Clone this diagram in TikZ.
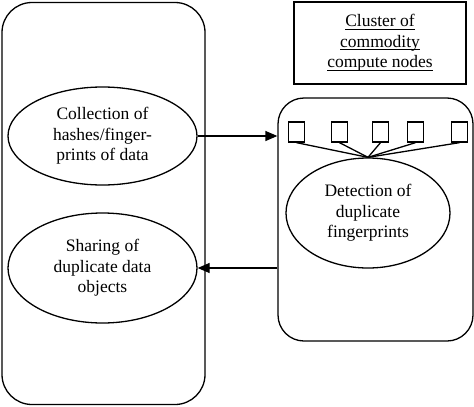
\documentclass[tikz,border=0pt]{standalone}
\usepackage{fontspec}
\setmainfont{Liberation Serif}
\usetikzlibrary{shapes.geometric,arrows.meta}
\newcommand\myul[1]{\leavevmode\setbox0\hbox{#1}\rlap{\rule[-2.8pt]{\wd0}{0.7pt}}\box0}
\begin{document}
\begin{tikzpicture}[x=1pt,y=-1pt,line width=1.3pt,
  every node/.style={font=\fontsize{17.5}{20.5}\selectfont, align=center},
  oval/.style={ellipse,draw,inner sep=0pt},
  sq/.style={draw,minimum width=16pt,minimum height=20pt,inner sep=0pt},
  arr/.style={-{Triangle[length=12pt,width=10pt]}}]
\useasboundingbox (0,0) rectangle (474,407);
\node[draw,rounded corners=30pt,minimum width=203pt,minimum height=402pt] (left) at (103.5,203.5) {};
\node[oval,minimum width=189pt,minimum height=98pt] (coll) at (102.5,136) {Collection of\\hashes/finger-\\prints of data};
\node[oval,minimum width=189pt,minimum height=110pt] (share) at (102.5,268) {Sharing of\\duplicate data\\objects};
\node[draw,rounded corners=26pt,minimum width=195pt,minimum height=243pt] (right) at (375.5,219.5) {};
\node[draw,minimum width=172pt,minimum height=82pt] (cluster) at (380,43) {\myul{Cluster of}\\\myul{commodity}\\\myul{compute nodes}};
\node[oval,minimum width=164pt,minimum height=110pt] (det) at (368,213) {Detection of\\duplicate\\fingerprints};
\node[sq] (s1) at (296.5,132) {};
\node[sq] (s2) at (339.5,132) {};
\node[sq] (s3) at (380.5,132) {};
\node[sq] (s4) at (415.5,132) {};
\node[sq] (s5) at (459.5,132) {};
\foreach \s in {s1,s2,s3,s4,s5} \draw (\s.south) -- (det.north);
\draw[arr] (coll.east) -- (coll.east -| right.west);
\draw[arr] (share.east -| right.west) -- (share.east);
\end{tikzpicture}
\end{document}
